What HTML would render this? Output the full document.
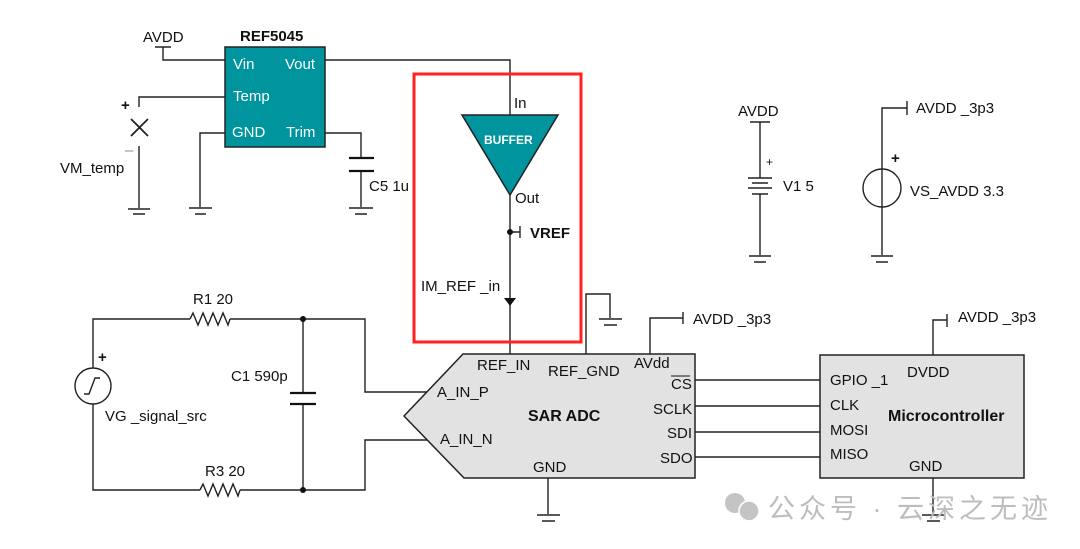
<!DOCTYPE html>
<html><head><meta charset="utf-8"><style>
html,body{margin:0;padding:0;background:#fff;width:1080px;height:549px;overflow:hidden}
svg{display:block}
text{font-family:"Liberation Sans",Arial,sans-serif;font-size:15px;fill:#111}
.b{font-weight:bold}
.w{fill:#fff}
</style></head><body>
<svg width="1080" height="549" viewBox="0 0 1080 549" xmlns="http://www.w3.org/2000/svg">
<g stroke="#222" stroke-width="1.4" fill="none">
<path d="M155 47H171M163 47V60H225"/>
<path d="M325 60H510V115"/>
<path d="M225 97H139V107"/>
<path d="M131 119L148 136M148 119L131 136" stroke-width="1.8"/>
<path d="M139 146V208"/>
<path d="M128 209H150M133 214H145"/>
<path d="M225 133H200V207M189 208H212M195 214H206"/>
<path d="M325 133H361V158M361 171V207M349 208H373M355 214H367"/>
<path d="M510 195V354"/>
<path d="M510 232H520M520 226V238"/>
<path d="M93 368V319H190M230 319H365V392H427"/>
<path d="M93 404V490H200M240 490H365V440H427"/>
<path d="M190 319l3-6 5 12 5-12 5 12 5-12 5 12 5-12 5 12 2-6"/>
<path d="M200 490l3-6 5 12 5-12 5 12 5-12 5 12 5-12 5 12 2-6"/>
<path d="M303 319V393M303 404V490"/>
<circle cx="93" cy="386" r="18"/>
<path d="M84 394h5l6-16h5"/>
<path d="M586 354V294H610V318M599 319H622M604 325H617"/>
<path d="M650 354V318H683M683 312V324"/>
<path d="M548 478V514M537 515H560M542 521H555"/>
<path d="M695 380H820M695 406H820M695 432H820M695 457H820"/>
<path d="M933 355V320H947M947 314V327"/>
<path d="M933 478V514M922 515H945M927 521H940"/>
<path d="M750 122H770M760 122V178M760 194V255M749 256H771M754 262H766"/>
<path d="M748 178H772M752 183H768M748 188H772M752 194H768"/>
<path d="M907 101V115M907 108H882V255M871 256H893M876 262H888"/>
<circle cx="882" cy="188" r="19"/>
</g>
<circle cx="303" cy="319" r="3" fill="#111"/>
<circle cx="303" cy="490" r="3" fill="#111"/>
<circle cx="510" cy="232" r="3" fill="#111"/>
<path d="M504 298H516L510 306Z" fill="#111"/>
<path d="M349 158H374M349 171H374M290 393H316M290 404H316" stroke="#111" stroke-width="2.2"/>
<rect x="225" y="47" width="100" height="100" fill="#00959e" stroke="#222" stroke-width="1.5"/>
<text x="240" y="41" class="b">REF5045</text>
<text x="233" y="69" class="w">Vin</text><text x="285" y="69" class="w">Vout</text>
<text x="233" y="101" class="w">Temp</text>
<text x="232" y="137" class="w">GND</text><text x="286" y="137" class="w">Trim</text>
<text x="143" y="42">AVDD</text>
<text x="121" y="110" class="b">+</text><text x="125" y="155" style="fill:#888">–</text>
<text x="60" y="173">VM_temp</text>
<text x="369" y="191">C5 1u</text>
<path d="M462 115H558L510 195Z" fill="#00959e" stroke="#222" stroke-width="1.5"/>
<text x="484" y="144" class="w b" style="font-size:12px">BUFFER</text>
<text x="514" y="108">In</text>
<text x="515" y="203">Out</text>
<text x="530" y="238" class="b">VREF</text>
<text x="421" y="291">IM_REF _in</text>
<rect x="414" y="74" width="167" height="268" fill="none" stroke="#f22" stroke-width="3"/>
<path d="M463 354H695V478H464L404 416Z" fill="#e2e2e2" stroke="#222" stroke-width="1.5"/>
<text x="477" y="370">REF_IN</text>
<text x="548" y="376">REF_GND</text>
<text x="634" y="368">AVdd</text>
<text x="671" y="389">CS</text><path d="M671 376H690" stroke="#111"/>
<text x="653" y="414">SCLK</text>
<text x="667" y="438">SDI</text>
<text x="660" y="463">SDO</text>
<text x="437" y="397">A_IN_P</text>
<text x="440" y="444">A_IN_N</text>
<text x="528" y="421" class="b" style="font-size:16px">SAR ADC</text>
<text x="533" y="472">GND</text>
<text x="693" y="324">AVDD _3p3</text>
<text x="193" y="304">R1 20</text>
<text x="205" y="476">R3 20</text>
<text x="231" y="381">C1 590p</text>
<text x="98" y="362" class="b">+</text>
<text x="105" y="421">VG _signal_src</text>
<rect x="820" y="355" width="204" height="123" fill="#e2e2e2" stroke="#222" stroke-width="1.5"/>
<text x="830" y="385">GPIO _1</text>
<text x="907" y="377">DVDD</text>
<text x="830" y="410">CLK</text>
<text x="888" y="421" class="b" style="font-size:16px">Microcontroller</text>
<text x="830" y="435">MOSI</text>
<text x="830" y="459">MISO</text>
<text x="909" y="471">GND</text>
<text x="958" y="322">AVDD _3p3</text>
<text x="738" y="116">AVDD</text>
<text x="766" y="166" style="font-size:12px">+</text>
<text x="783" y="191">V1 5</text>
<text x="916" y="113">AVDD _3p3</text>
<text x="891" y="163" class="b">+</text>
<text x="910" y="196">VS_AVDD  3.3</text>
<circle cx="735" cy="503" r="10" fill="#c4c4c4"/>
<circle cx="749" cy="511" r="10" fill="#c4c4c4" stroke="#fff" stroke-width="1.5"/>
<text x="768" y="518" style="font-family:'Liberation Sans','Noto Sans CJK SC',sans-serif;font-size:27px;fill:#bdbdbd;letter-spacing:4px">公众号 · 云深之无迹</text>
</svg>
</body></html>
